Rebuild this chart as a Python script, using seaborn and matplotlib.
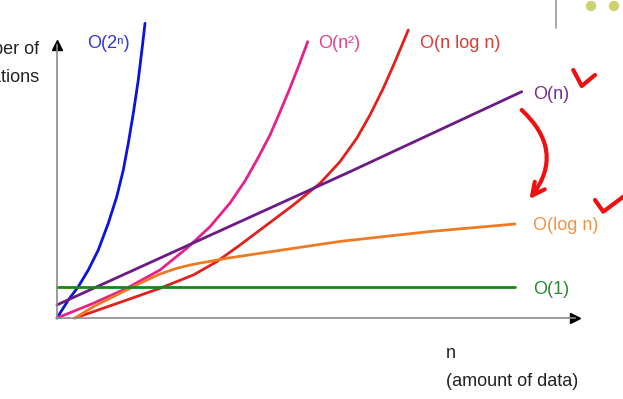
import matplotlib
matplotlib.use('Agg')
import matplotlib.pyplot as plt
import seaborn as sns
from matplotlib.patches import Ellipse

sns.set_style('white')
plt.rcParams['font.family'] = ['Liberation Sans', 'DejaVu Sans']

# Curve points (n axis and operations axis both run 0..100)
exp_n = [0, 2.18, 4.11, 6.04, 7.97, 9.90, 11.53, 12.80, 13.76, 14.73, 15.69, 16.47, 16.99]
exp_ops = [0, 6.59, 11.47, 17.58, 24.91, 34.69, 44.43, 54.21, 63.99, 74.98, 87.18, 99.38, 107.95]

sq_n = [0, 7.01, 13.46, 19.88, 25.04, 29.54, 33.40, 36.29, 38.80, 41.12, 43.05, 44.98, 46.72, 48.40]
sq_ops = [0, 5.38, 10.88, 17.58, 25.53, 33.44, 42.12, 50.18, 58.61, 67.03, 75.46, 84.25, 92.67, 101.21]

nlog_n = [3.47, 7.01, 13.46, 19.88, 26.31, 30.83, 35.33, 40.48, 45.62, 50.77, 54.63, 57.86, 60.42, 62.99, 65.25, 67.82]
nlog_ops = [0, 2.31, 6.59, 10.88, 15.75, 20.62, 26.74, 34.07, 41.39, 49.34, 57.25, 65.82, 74.36, 84.14, 93.88, 105.49]

lin_n = [0, 56.56, 89.71]
lin_ops = [4.8, 53.59, 82.89]

log_n = [3.47, 7.01, 10.23, 13.46, 16.66, 19.88, 23.11, 26.31, 29.54, 32.76, 39.19, 54.63, 72.01, 88.42]
log_ops = [0, 4.14, 7.22, 10.26, 13.30, 16.12, 18.21, 19.67, 20.75, 21.87, 23.70, 28.05, 31.68, 34.43]

const_n = [0, 88.42]
const_ops = [11.36, 11.36]

curves = [
    (exp_n, exp_ops, '#0b14dc', 'O(2ⁿ)', (5.8, 100.5), '#3237d6'),
    (sq_n, sq_ops, '#e5218a', 'O(n²)', (50.4, 100.5), '#e4418f'),
    (nlog_n, nlog_ops, '#e2201c', 'O(n log n)', (70.1, 100.5), '#e23a33'),
    (lin_n, lin_ops, '#6b1a86', 'O(n)', (91.9, 81.7), '#7b2d8b'),
    (log_n, log_ops, '#ef7a22', 'O(log n)', (91.9, 33.7), '#ef9446'),
    (const_n, const_ops, '#16881a', 'O(1)', (91.9, 10.6), '#2b8a30'),
]

# hand-drawn red marks (same units)
check1_x = [99.67, 101.29, 103.86]
check1_y = [90.84, 84.98, 89.01]
check2_x = [103.86, 105.46, 109.32]
check2_y = [43.22, 38.94, 44.43]
arrow_from = (89.71, 76.19)
arrow_to = (91.2, 43.5)

W, H = 623, 399
fig = plt.figure(figsize=(W / 100, H / 100), dpi=100)
ax = fig.add_axes([57 / W, (H - 318) / H, (575 - 57) / W, (318 - 45) / H])
ax.set_facecolor('none')
ax.set_xlim(0, 100)
ax.set_ylim(0, 100)

for xs, ys, col, label, pos, tcol in curves:
    sns.lineplot(x=xs, y=ys, ax=ax, color=col, linewidth=2.0, sort=False,
                 estimator=None, clip_on=False)
    ax.text(pos[0], pos[1], label, color=tcol, fontsize=13, ha='left', va='center')

# axes drawn as arrows
for side in ['top', 'right']:
    ax.spines[side].set_visible(False)
for side in ['left', 'bottom']:
    ax.spines[side].set_color('#8a8a8a')
    ax.spines[side].set_linewidth(1.2)
ax.set_xticks([])
ax.set_yticks([])
ax.plot([0], [100], marker='^', color='black', markersize=7, clip_on=False)
ax.plot([100], [0], marker='>', color='black', markersize=7, clip_on=False)

# axis captions (left one is cut by the frame edge, as in the screenshot)
fig.text(39 / W, 1 - 50 / H, 'Number of', ha='right', va='center', fontsize=13, color='#222222')
fig.text(39 / W, 1 - 78 / H, 'operations', ha='right', va='center', fontsize=13, color='#222222')
fig.text(446 / W, 1 - 354 / H, 'n', ha='left', va='center', fontsize=13, color='#222222')
fig.text(446 / W, 1 - 381 / H, '(amount of data)', ha='left', va='center', fontsize=13, color='#222222')

# red annotations
ax.plot(check1_x, check1_y, color='#f01010', linewidth=3, clip_on=False,
        solid_capstyle='round', solid_joinstyle='round')
ax.plot(check2_x, check2_y, color='#f01010', linewidth=3, clip_on=False,
        solid_capstyle='round', solid_joinstyle='round')
ax.annotate('', xy=arrow_to, xytext=arrow_from, annotation_clip=False,
            arrowprops=dict(arrowstyle='->,head_length=0.9,head_width=0.45',
                            color='#f01010', lw=3, shrinkA=0, shrinkB=0,
                            connectionstyle='arc3,rad=-0.45'))

# slide decorations at top right
fig.add_artist(plt.Line2D([556 / W, 556 / W], [1, 1 - 28 / H], color='#999999', lw=1.2))
for cx in [591, 614]:
    fig.add_artist(Ellipse((cx / W, 1 - 6 / H), 9 / W, 9 / H, color='#cfd070',
                           transform=fig.transFigure))

fig.savefig('out.png', dpi=100)
